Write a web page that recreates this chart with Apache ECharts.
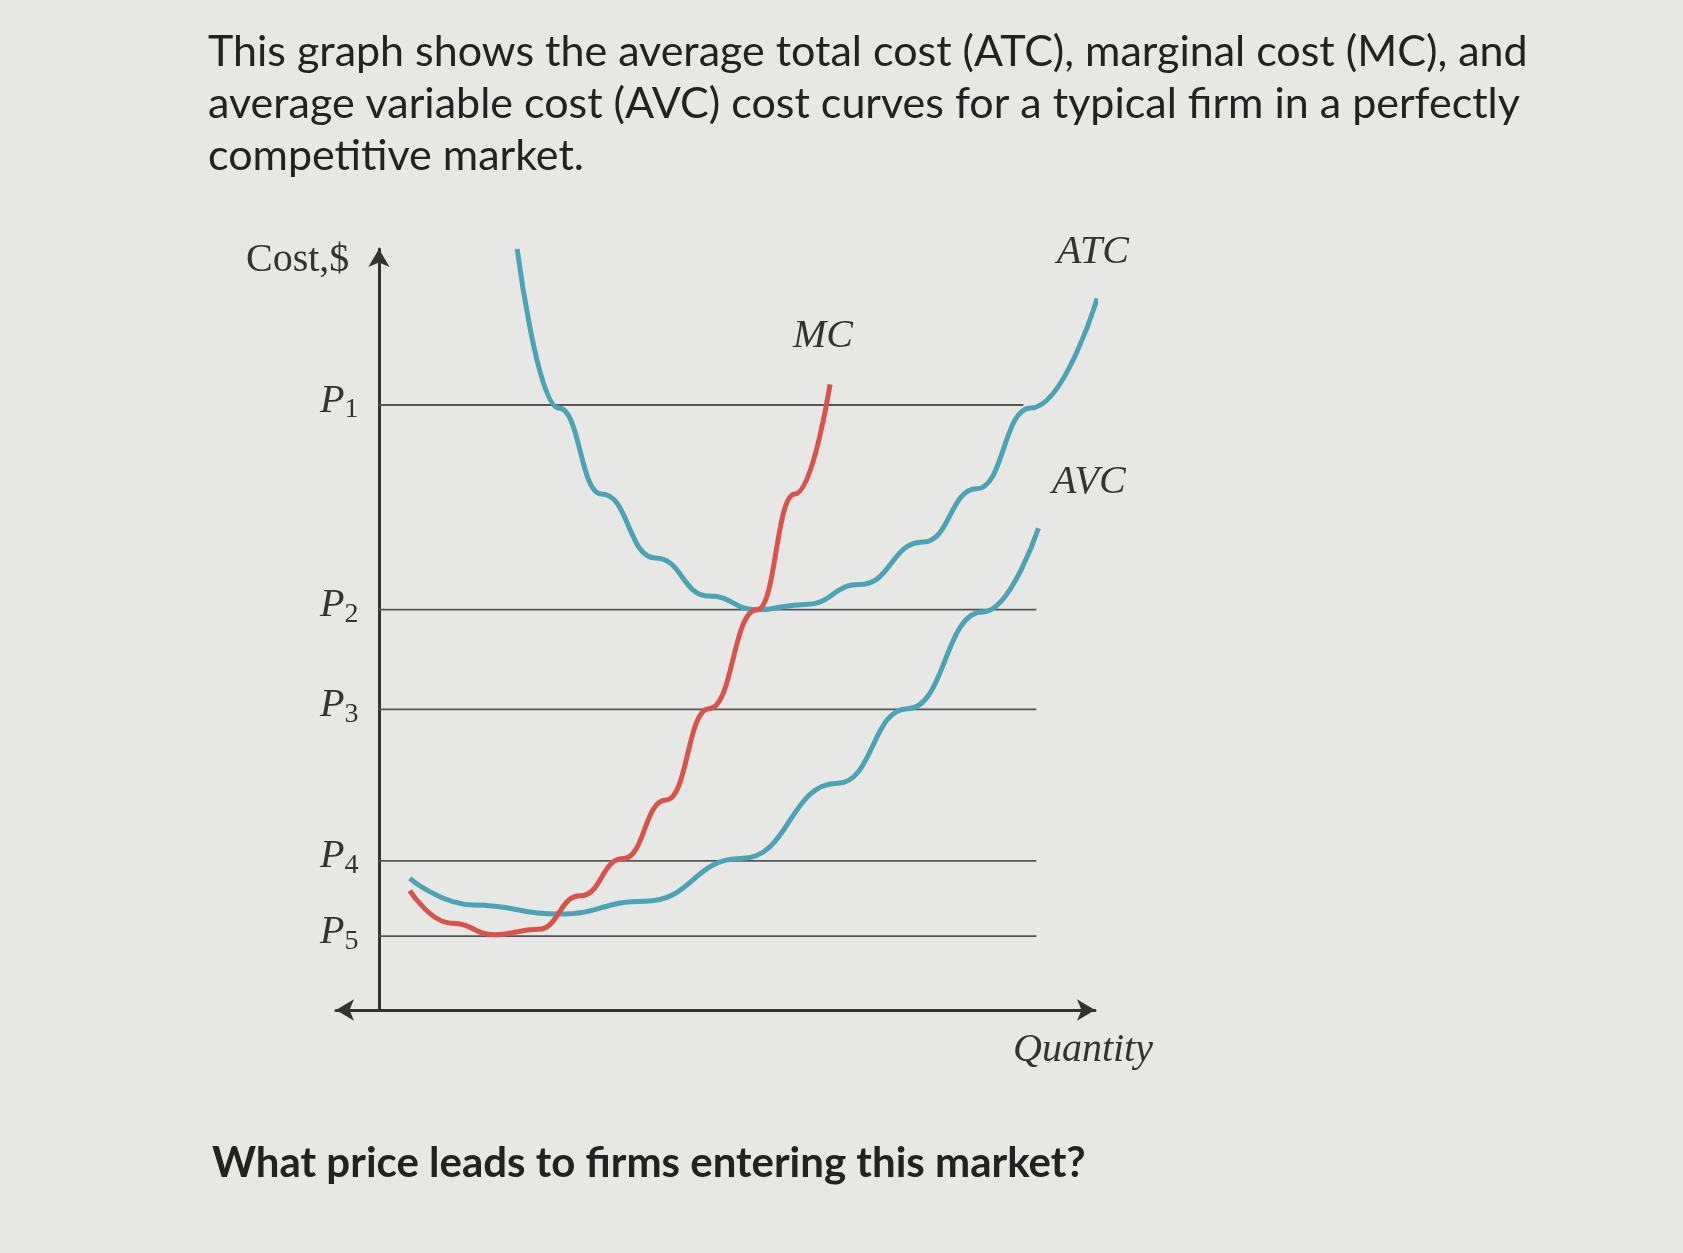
<!DOCTYPE html><html><head><meta charset="utf-8">
<script src="https://cdn.jsdelivr.net/npm/echarts@6/dist/echarts.min.js"></script>
<style>html,body{margin:0;background:#e7e7e5}#c{width:1683px;height:1253px}</style></head><body><div id="c"></div>
<script>
const atc=[[19.3,100],[25.1,79.1],[31.1,67.8],[38.6,59.4],[46.1,54.4],[52.8,52.6],[59.6,53.3],[67.1,55.9],[76.0,61.5],[83.5,68.5],[91.0,79.1],[100.3,93.5]];
const mc=[[4.3,15.7],[10.2,11.4],[16.2,9.9],[22.2,10.6],[28.1,15.0],[34.1,19.9],[40.1,27.6],[46.1,39.6],[52.8,52.6],[58.1,67.8],[63.0,82.2]];
const avc=[[4.3,17.3],[13.2,13.8],[25.1,12.6],[37.1,14.3],[50.6,19.9],[64.1,29.8],[73.8,39.6],[84.3,52.3],[92.1,63.3]];
const prices=[79.5,52.6,39.5,19.6,9.7];
const priceEnds=[90,91.8,91.8,91.8,91.8];
const priceLabels=['1','2','3','4','5'];
const chart=echarts.init(document.getElementById('c'));
const G={left:336,top:249,width:759,height:761};
const ypx=v=>G.top+(100-v)/100*G.height;
const serif='"Liberation Serif","DejaVu Serif",serif';
const graphics=[];
prices.forEach((p,i)=>graphics.push({type:'text',left:320,top:ypx(p)-24,style:{text:'{a|P}{b|'+priceLabels[i]+'}',rich:{a:{font:'italic 40px '+serif,fill:'#333'},b:{font:'28px '+serif,fill:'#333',padding:[18,0,0,0]}}}}));
const lbl=(t,x,y,it)=>graphics.push({type:'text',left:x,top:y,style:{text:t,font:(it?'italic ':'')+'40px '+serif,fill:'#333'}});
lbl('Cost,$',246,240,false);lbl('ATC',1057,232,true);lbl('MC',793,316,true);lbl('AVC',1052,462,true);lbl('Quantity',1013,1030,true);
graphics.push({type:'text',left:208,top:26,style:{text:'This graph shows the average total cost (ATC), marginal cost (MC), and\naverage variable cost (AVC) cost curves for a typical firm in a perfectly\ncompetitive market.',font:'43px Lato',lineHeight:52,fill:'#222'}});
graphics.push({type:'text',left:212,top:1142,style:{text:'What price leads to firms entering this market?',font:'bold 42px Lato',fill:'#222'}});
const series=prices.map((p,i)=>({type:'line',data:[[0,p],[priceEnds[i],p]],symbol:'none',lineStyle:{color:'#555',width:1.8},silent:true}));
const curve=(d,c)=>({type:'line',data:d,smooth:0.5,smoothMonotone:'x',symbol:'none',lineStyle:{color:c,width:5}});
series.push(curve(atc,'#4ba3b6'),curve(avc,'#4ba3b6'),curve(mc,'#d9534a'));
chart.setOption({animation:false,backgroundColor:'#e7e7e5',grid:G,
xAxis:{type:'value',min:-6,max:100,axisLine:{onZero:true,symbol:['arrow','arrow'],symbolSize:[16,18],lineStyle:{color:'#333',width:3}},axisTick:{show:false},axisLabel:{show:false},splitLine:{show:false}},
yAxis:{type:'value',min:0,max:100,axisLine:{show:true,onZero:true,symbol:['none','arrow'],symbolSize:[16,18],lineStyle:{color:'#333',width:3}},axisTick:{show:false},axisLabel:{show:false},splitLine:{show:false}},
series,graphic:graphics});
</script></body></html>
